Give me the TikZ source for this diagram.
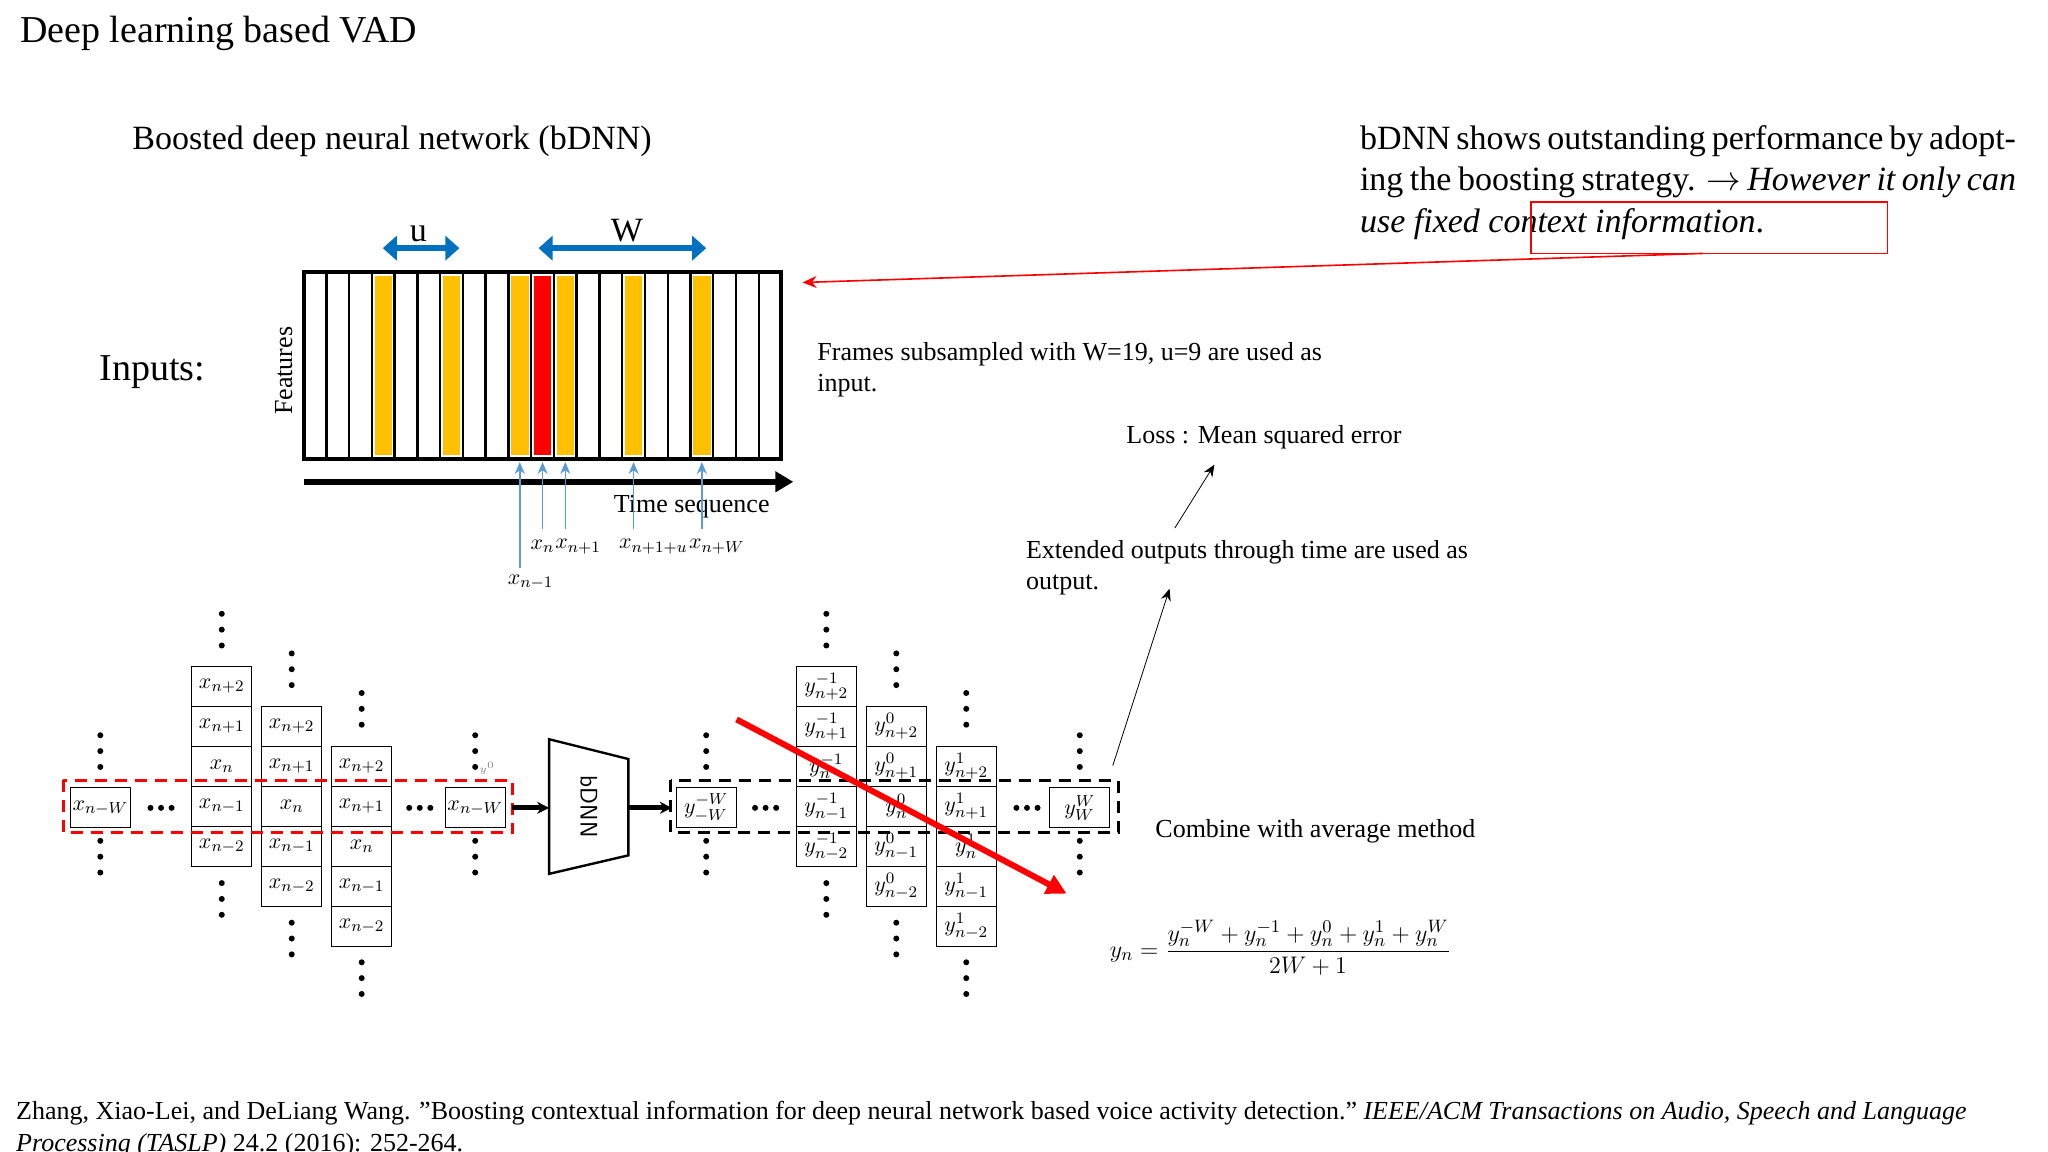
\documentclass[tikz,border=0pt]{standalone}
\usepackage{fontspec}
\setmainfont{Liberation Serif}
\usetikzlibrary{arrows.meta}
\definecolor{orng}{HTML}{FFC000}
\definecolor{dblue}{HTML}{0070C0}
\definecolor{lblue}{HTML}{5B9BD5}
\newcommand\mydots[2]{\foreach \k in {0,1,2} \fill ({#1},{#2+\k*12}) circle (1.5pt);}
\newcommand\hmydots[2]{\foreach \k in {0,1,2} \fill ({#1+(\k-1)*8},{#2}) circle (1.5pt);}
\newcommand\fs[1]{\fontsize{#1}{1.2\dimexpr #1pt\relax}\selectfont}
\begin{document}
\begin{tikzpicture}[x=0.66pt,y=-0.66pt,
  cell/.style={draw,thin,minimum width=30pt,minimum height=20pt,inner sep=0pt,font=\fontsize{11}{12}\selectfont},
  txt/.style={anchor=west,inner sep=0pt,font=\fs{13}},
  blarrow/.style={-{Stealth[length=6pt,width=6pt]},line width=2.5pt}]
\useasboundingbox (0,0) rectangle (1551.5,872.7);
% titles
\node[anchor=west,inner sep=0pt,font=\fs{19}] (title) at (15,25) {Deep learning based VAD};
\node[anchor=west,inner sep=0pt,font=\fs{17}] (sub) at (100,107) {Boosted deep neural network (bDNN)};
\node[anchor=west,inner sep=0pt,font=\fs{19}] (inp) at (75,282) {Inputs:};
\node[anchor=north west,inner sep=0pt,text width=328pt,align=justify,font=\fontsize{17}{20.6}\selectfont] (para) at (1030,95)
 {bDNN shows outstanding performance by adopting the boosting strategy. \textbf{$\rightarrow$} \textit{However it only can use fixed context information}.};
\draw[red,thick] (1160,153) rectangle (1430,192);
% strip
\foreach \i in {0,...,20}{
  \pgfmathsetmacro\xa{230+17.24*\i}
  \pgfmathsetmacro\xb{230+17.24*(\i+1)}
  \draw[line width=1.2pt] (\xa,206) rectangle (\xb,348);
}
\foreach \i in {3,6,9,11,14,17}{
  \pgfmathsetmacro\xa{230+17.24*\i+2}
  \pgfmathsetmacro\xb{230+17.24*(\i+1)-2}
  \fill[orng] (\xa,209) rectangle (\xb,345);
}
\fill[red] ({230+17.24*10+2},209) rectangle ({230+17.24*11-2},345);
\draw[line width=2pt] (230,206) rectangle (592,348);
\coordinate (sl) at (230,365); \coordinate (sr) at (601,365);
\draw[line width=3pt,-{Triangle[length=9pt,width=10pt]}] (sl) -- (sr);
\node[rotate=90,inner sep=0pt,font=\fs{13}] (feat) at (215,281) {Features};
\node[inner sep=0pt,font=\fs{13}] (ts) at (524,384) {Time sequence};
\draw[dblue,line width=3pt,{Triangle[length=7pt,width=12pt]}-{Triangle[length=7pt,width=12pt]}] (290,188) -- (348,188);
\draw[dblue,line width=3pt,{Triangle[length=7pt,width=12pt]}-{Triangle[length=7pt,width=12pt]}] (408,188) -- (535,188);
\node[inner sep=0pt,font=\fs{17}] (u) at (317,177) {u};
\node[inner sep=0pt,font=\fs{17}] (W) at (475,175) {W};
% labels under strip
\node[inner sep=0pt,font=\fontsize{11}{12}\selectfont] (l1) at (402,441) {$x_{n-1}$};
\node[inner sep=0pt,font=\fontsize{11}{12}\selectfont] (l2) at (411,414) {$x_{n}$};
\node[inner sep=0pt,font=\fontsize{11}{12}\selectfont] (l3) at (438,414) {$x_{n+1}$};
\node[inner sep=0pt,font=\fontsize{11}{12}\selectfont] (l4) at (495,414) {$x_{n+1+u}$};
\node[inner sep=0pt,font=\fontsize{11}{12}\selectfont] (l5) at (543,414) {$x_{n+W}$};
\foreach \n/\c/\y in {a/9/430,b/10/401,c/11/401,d/14/401,e/17/401}{
  \coordinate (\n s) at ({230+17.24*(\c+0.5)},\y);
  \coordinate (\n t) at ({230+17.24*(\c+0.5)},350);
  \draw[lblue,thick,-{Stealth[length=6pt,width=5pt]}] (\n s) -- (\n t);
}
\coordinate (rs) at (1290,192); \coordinate (rt) at (608,214);
\draw[red,thick,-{Stealth[length=7pt,width=6pt]}] (rs) -- (rt);
\node[txt,anchor=north west,align=left] (frames) at (619,259) {Frames subsampled with W=19, u=9 are used as\\input.};
\node[txt] (loss) at (853,331) {Loss : Mean squared error};
\node[txt,anchor=north west,align=left] (ext) at (777,409) {Extended outputs through time are used as\\output.};
\node[txt] (comb) at (875,630) {Combine with average method};
\coordinate (e1) at (890,400); \coordinate (e2) at (920,352);
\draw[-{Stealth[length=6pt,width=5pt]}] (e1) -- (e2);
\coordinate (f1) at (843,580); \coordinate (f2) at (886,446);
\draw[-{Stealth[length=6pt,width=5pt]}] (f1) -- (f2);
\node[inner sep=0pt,font=\fs{13}] (formula) at (970,718) {$y_n=\displaystyle\frac{y_n^{-W}+y_n^{-1}+y_n^{0}+y_n^{1}+y_n^{W}}{2W+1}$};
% ---------- left input stack
\node[cell] (xw1) at (76,612) {$x_{n-W}$};
\node[cell] (xw2) at (360,612) {$x_{n-W}$};
\hmydots{122}{612} \hmydots{318}{612}
\foreach \col/\cx/\off in {A/168/0,B/221/1,C/274/2}{
  \foreach \r/\lab in {0/{n+2},1/{n+1},2/{n},3/{n-1},4/{n-2}}{
    \node[cell] (x\col\r) at (\cx,{520+30.3*(\r+\off)}) {$x_{\lab}$};
  }
  \mydots{\cx}{465+30*\off} \mydots{\cx}{669+30*\off}
}
\mydots{76}{557} \mydots{76}{637} \mydots{360}{557} \mydots{360}{637}
\node[gray,inner sep=0pt,font=\fontsize{5}{6}\selectfont] (tiny) at (369,582) {$y^0$};
\draw[red,dashed,line width=1.5pt,dash pattern=on 6pt off 4pt] (48,591) rectangle (388,631);
% bDNN
\coordinate (t1) at (416,560); \coordinate (t2) at (476,575); \coordinate (t3) at (476,648); \coordinate (t4) at (416,662);
\draw[line width=1.2pt] (t1) -- (t2) -- (t3) -- (t4) -- cycle;
\node[rotate=-90,inner sep=0pt,font=\fontsize{12}{13}\selectfont\sffamily] (bdnn) at (446,611) {bDNN};
\coordinate (ia) at (388,612); \coordinate (ib) at (416,612);
\draw[blarrow] (ia) -- (ib);
\coordinate (oa) at (476,612); \coordinate (ob) at (509,612);
\draw[blarrow] (oa) -- (ob);
% ---------- right output stack
\node[cell] (yw1) at (535,612) {$y_{-W}^{-W}$};
\node[cell] (yw2) at (818,612) {$y_{W}^{W}$};
\hmydots{580}{612} \hmydots{778}{612}
\foreach \col/\cx/\off/\sp in {D/626/0/{-1},E/679/1/{0},F/732/2/{1}}{
  \foreach \r/\lab in {0/{n+2},1/{n+1},2/{n},3/{n-1},4/{n-2}}{
    \node[cell] (y\col\r) at (\cx,{520+30.3*(\r+\off)}) {$y^{\sp}_{\lab}$};
  }
  \mydots{\cx}{465+30*\off} \mydots{\cx}{669+30*\off}
}
\mydots{535}{557} \mydots{535}{637} \mydots{818}{557} \mydots{818}{637}
\draw[dashed,line width=1.5pt,dash pattern=on 6pt off 4pt] (508,591) rectangle (847,631);
\coordinate (ra) at (558,545); \coordinate (rb) at (808,677);
\draw[red,line width=3pt,-{Triangle[length=10pt,width=10pt]}] (ra) -- (rb);
% reference
\node[anchor=north west,inner sep=0pt,align=left,font=\fontsize{13}{16}\selectfont] (ref) at (12,834)
 {Zhang, Xiao-Lei, and DeLiang Wang. "Boosting contextual information for deep neural network based voice activity detection." \textit{IEEE/ACM Transactions on Audio, Speech and Language}\\\textit{Processing (TASLP)} 24.2 (2016): 252-264.};
\end{tikzpicture}
\end{document}
